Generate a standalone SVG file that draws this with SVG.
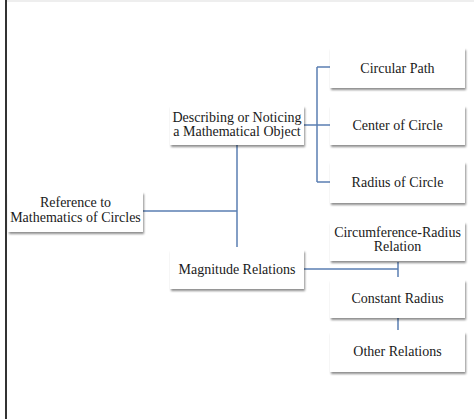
<svg xmlns="http://www.w3.org/2000/svg" width="474" height="419" viewBox="0 0 474 419">
<defs>
<filter id="sh" x="-10%" y="-20%" width="125%" height="160%">
<feGaussianBlur in="SourceAlpha" stdDeviation="1.2"/>
<feOffset dx="0.5" dy="2" result="b"/>
<feComponentTransfer><feFuncA type="linear" slope="0.45"/></feComponentTransfer>
<feMerge><feMergeNode/><feMergeNode in="SourceGraphic"/></feMerge>
</filter>
</defs>
<style>
.box{fill:#fff;filter:url(#sh)}
.t{font-family:"Liberation Serif","Times New Roman",serif;font-size:14px;fill:#1a1a1a;text-anchor:middle}
.c{stroke:#5b7fb3;stroke-width:1.5;fill:none}
</style>
<rect width="474" height="419" fill="#fff"/>
<rect x="7" y="0" width="467" height="2" fill="#eeeeee"/>
<line x1="6" y1="0" x2="6" y2="419" stroke="#333" stroke-width="2"/>
<g id="connectors">
<path class="c" d="M304 125H330M317 67V182M317 67H330M317 182H330"/>
<path class="c" d="M237 145V247M143 211H237"/>
<path class="c" d="M304 269H398M398 262V277M398 318V330"/>
</g>
<g id="ref"><rect class="box" x="8" y="192" width="135" height="40"/><text class="t" x="75.5" y="207">Reference to</text><text class="t" x="75.5" y="222">Mathematics of Circles</text></g>
<g id="desc"><rect class="box" x="170" y="106" width="134" height="39"/><text class="t" x="237" y="122">Describing or Noticing</text><text class="t" x="237" y="136">a Mathematical Object</text></g>
<g id="mag"><rect class="box" x="170" y="250" width="134" height="39"/><text class="t" x="237" y="274">Magnitude Relations</text></g>
<g id="path"><rect class="box" x="330" y="48" width="135" height="40"/><text class="t" x="397.5" y="73">Circular Path</text></g>
<g id="center"><rect class="box" x="330" y="106" width="135" height="39"/><text class="t" x="397.5" y="130">Center of Circle</text></g>
<g id="radius"><rect class="box" x="330" y="162" width="135" height="41"/><text class="t" x="397.5" y="187">Radius of Circle</text></g>
<g id="circ"><rect class="box" x="330" y="222" width="135" height="39"/><text class="t" x="397.5" y="237">Circumference-Radius</text><text class="t" x="397.5" y="251">Relation</text></g>
<g id="const"><rect class="box" x="330" y="280" width="135" height="38"/><text class="t" x="397.5" y="303">Constant Radius</text></g>
<g id="other"><rect class="box" x="330" y="332" width="135" height="40"/><text class="t" x="397.5" y="356">Other Relations</text></g>
</svg>
